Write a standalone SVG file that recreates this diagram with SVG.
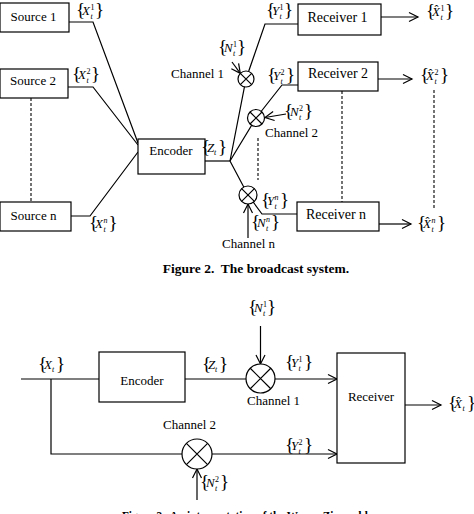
<svg xmlns="http://www.w3.org/2000/svg" width="474" height="514" viewBox="0 0 474 514" font-family="'Liberation Serif','Times New Roman',Tinos,'DejaVu Serif',serif">
<style>
.bx{fill:#fff;stroke:#000;stroke-width:1.2}
.ln{fill:none;stroke:#000;stroke-width:1.2}
.ds{fill:none;stroke:#000;stroke-width:1.1;stroke-dasharray:3 2}
.ar{marker-end:url(#ah)}
text{font-family:'Liberation Serif','Times New Roman',Tinos,'DejaVu Serif',serif;fill:#000}
.t{font-size:13px}
.tr{font-size:14px}
.m{text-anchor:middle}
.br{font-size:19px}
.v{font-size:13px;font-style:italic}
.s{font-size:8px}
.si{font-size:8px;font-style:italic}
.h{font-size:12px}
.cap{font-size:13.5px;font-weight:bold}
</style>
<defs>
<marker id="ah" markerUnits="userSpaceOnUse" markerWidth="12" markerHeight="12" refX="10" refY="5" orient="auto" viewBox="0 0 12 10">
<path d="M1,0.5 L10,5 L1,9.5" fill="none" stroke="#000" stroke-width="1.2"/>
</marker>
</defs>
<rect width="474" height="514" fill="#fff"/>

<g id="connectors">
<polyline class="ln" points="69,22 93,22 138,143"/>
<polyline class="ln" points="68,87 93,87 138,145"/>
<polyline class="ln" points="71,216 90,216 138,152"/>
<line class="ln" x1="205" y1="161" x2="230" y2="161"/>
<polyline class="ln" points="230,161 246,79 265,24 298,24"/>
<polyline class="ln" points="230,161 256,118 282,85 298,85"/>
<polyline class="ln" points="230,161 248,195 262,214 297,214"/>
<line class="ln ar" x1="232" y1="62" x2="240.3" y2="73.3"/>
<line class="ln ar" x1="286" y1="114" x2="265" y2="117.5"/>
<line class="ln ar" x1="248" y1="238" x2="248" y2="204"/>
<line class="ln ar" x1="381" y1="17" x2="418" y2="17"/>
<line class="ln ar" x1="378" y1="79" x2="412" y2="79"/>
<line class="ln ar" x1="379" y1="224" x2="411" y2="224"/>
<line class="ds" x1="31" y1="98" x2="31" y2="202"/>
<line class="ds" x1="258" y1="138" x2="258" y2="180"/>
<line class="ds" x1="342" y1="91" x2="342" y2="202"/>
<line class="ds" x1="434" y1="90" x2="434" y2="210"/>

<line class="ln" x1="21" y1="379" x2="99" y2="379"/>
<polyline class="ln" points="51,379 51,454 182,454"/>
<line class="ln" x1="185" y1="379" x2="246" y2="379"/>
<line class="ln ar" x1="275" y1="379" x2="337" y2="379"/>
<line class="ln ar" x1="260.5" y1="326" x2="260.5" y2="364"/>
<line class="ln ar" x1="212" y1="454" x2="337" y2="454"/>
<line class="ln ar" x1="197" y1="500" x2="197" y2="469"/>
<line class="ln ar" x1="405" y1="405" x2="441" y2="405"/>
</g>

<g id="source1"><rect class="bx" x="0" y="3" width="69" height="29"/><text class="t m" x="33.5" y="21">Source 1</text></g>
<g id="source2"><rect class="bx" x="0" y="69" width="68" height="29"/><text class="t m" x="33" y="85">Source 2</text></g>
<g id="sourcen"><rect class="bx" x="0" y="202" width="71" height="29"/><text class="t m" x="33.5" y="220">Source n</text></g>
<g id="encoder"><rect class="bx" x="138" y="139" width="67" height="35"/><text class="t m" x="171" y="155">Encoder</text></g>

<g id="channel1"><circle class="bx" cx="246" cy="79" r="8"/><path class="ln" d="M240.3,73.3 L251.7,84.7 M251.7,73.3 L240.3,84.7"/><text class="t" x="171" y="78">Channel 1</text></g>
<g id="channel2"><circle class="bx" cx="256" cy="118" r="8.5"/><path class="ln" d="M250,112 L262,124 M262,112 L250,124"/><text class="t" x="265" y="137">Channel 2</text></g>
<g id="channeln"><circle class="bx" cx="248" cy="195" r="9"/><path class="ln" d="M241.6,188.6 L254.4,201.4 M254.4,188.6 L241.6,201.4"/><text class="t" x="222" y="248">Channel n</text></g>

<g id="receiver1"><rect class="bx" x="298" y="4" width="83" height="31"/><text class="tr m" x="337.5" y="22">Receiver 1</text></g>
<g id="receiver2"><rect class="bx" x="298" y="62" width="80" height="29"/><text class="tr m" x="338" y="78">Receiver 2</text></g>
<g id="receivern"><rect class="bx" x="297" y="202" width="82" height="29"/><text class="tr m" x="336" y="219">Receiver n</text></g>

<g id="labels-top">
<g transform="translate(76,16)"><text class="br" x="0">{</text><text class="v" x="6" y="-1">X</text><text class="s" x="14.5" y="-6">1</text><text class="si" x="14.5" y="3">t</text><text class="br" x="19">}</text></g>
<g transform="translate(72,80)"><text class="br" x="0">{</text><text class="v" x="6" y="-1">X</text><text class="s" x="14.5" y="-6">2</text><text class="si" x="14.5" y="3">t</text><text class="br" x="19">}</text></g>
<g transform="translate(89,229)"><text class="br" x="0">{</text><text class="v" x="6" y="-1">X</text><text class="si" x="14.5" y="-6">n</text><text class="si" x="14.5" y="3">t</text><text class="br" x="19.5">}</text></g>
<g transform="translate(266,16)"><text class="br" x="0">{</text><text class="v" x="6" y="-1">Y</text><text class="s" x="13.5" y="-6">1</text><text class="si" x="13.5" y="3">t</text><text class="br" x="18">}</text></g>
<g transform="translate(218,53)"><text class="br" x="0">{</text><text class="v" x="6" y="-1">N</text><text class="s" x="15" y="-6">1</text><text class="si" x="15" y="3">t</text><text class="br" x="19">}</text></g>
<g transform="translate(267,81)"><text class="br" x="0">{</text><text class="v" x="6" y="-1">Y</text><text class="s" x="13.5" y="-6">2</text><text class="si" x="13.5" y="3">t</text><text class="br" x="19">}</text></g>
<g transform="translate(284,117)"><text class="br" x="0">{</text><text class="v" x="6" y="-1">N</text><text class="s" x="15" y="-6">2</text><text class="si" x="15" y="3">t</text><text class="br" x="20">}</text></g>
<g transform="translate(201,153)"><text class="br" x="0">{</text><text class="v" x="6" y="-1">Z</text><text class="si" x="13" y="2">t</text><text class="br" x="17">}</text></g>
<g transform="translate(261,206)"><text class="br" x="0">{</text><text class="v" x="6" y="-1">Y</text><text class="si" x="13.5" y="-6">n</text><text class="si" x="13.5" y="3">t</text><text class="br" x="19">}</text></g>
<g transform="translate(251,228)"><text class="br" x="0">{</text><text class="v" x="6" y="-1">N</text><text class="si" x="15" y="-6">n</text><text class="si" x="15" y="3">t</text><text class="br" x="20">}</text></g>
<g transform="translate(426,17)"><text class="br" x="0">{</text><text class="v" x="6" y="-1">X</text><text class="h" x="8.5" y="-3">ˆ</text><text class="s" x="14.5" y="-6">1</text><text class="si" x="14.5" y="3">t</text><text class="br" x="19">}</text></g>
<g transform="translate(420,81)"><text class="br" x="0">{</text><text class="v" x="6" y="-1">X</text><text class="h" x="8.5" y="-3">ˆ</text><text class="s" x="14.5" y="-6">2</text><text class="si" x="14.5" y="3">t</text><text class="br" x="20">}</text></g>
<g transform="translate(417,229)"><text class="br" x="0">{</text><text class="v" x="6" y="-1">X</text><text class="h" x="8.5" y="-3">ˆ</text><text class="si" x="14.5" y="-6">n</text><text class="si" x="14.5" y="3">t</text><text class="br" x="20">}</text></g>
</g>

<text class="cap m" x="256" y="273" xml:space="preserve">Figure 2.  The broadcast system.</text>

<g id="encoder-b"><rect class="bx" x="99" y="352" width="86" height="50"/><text class="t m" x="142" y="385">Encoder</text></g>
<g id="channel1-b"><circle class="bx" cx="260.5" cy="378.5" r="14.5"/><path class="ln" d="M250.25,368.25 L270.75,388.75 M270.75,368.25 L250.25,388.75"/><text class="t" x="247" y="405">Channel 1</text></g>
<g id="channel2-b"><circle class="bx" cx="197" cy="454" r="15"/><path class="ln" d="M186.4,443.4 L207.6,464.6 M207.6,443.4 L186.4,464.6"/><text class="t" x="163" y="429">Channel 2</text></g>
<g id="receiver-b"><rect class="bx" x="337" y="353" width="68" height="110"/><text class="t m" x="371" y="401">Receiver</text></g>

<g id="labels-bottom">
<g transform="translate(38,370)"><text class="br" x="0">{</text><text class="v" x="6" y="-1">X</text><text class="si" x="14" y="2">t</text><text class="br" x="18">}</text></g>
<g transform="translate(202,370)"><text class="br" x="0">{</text><text class="v" x="6" y="-1">Z</text><text class="si" x="13" y="2">t</text><text class="br" x="17">}</text></g>
<g transform="translate(248,313)"><text class="br" x="0">{</text><text class="v" x="6" y="-1">N</text><text class="s" x="15" y="-6">1</text><text class="si" x="15" y="3">t</text><text class="br" x="19">}</text></g>
<g transform="translate(285,368)"><text class="br" x="0">{</text><text class="v" x="6" y="-1">Y</text><text class="s" x="13.5" y="-6">1</text><text class="si" x="13.5" y="3">t</text><text class="br" x="19">}</text></g>
<g transform="translate(448,409)"><text class="br" x="0">{</text><text class="v" x="6" y="-1">X</text><text class="h" x="8.5" y="-3">ˆ</text><text class="si" x="14.5" y="2">t</text><text class="br" x="19">}</text></g>
<g transform="translate(285,451)"><text class="br" x="0">{</text><text class="v" x="6" y="-1">Y</text><text class="s" x="13.5" y="-6">2</text><text class="si" x="13.5" y="3">t</text><text class="br" x="19">}</text></g>
<g transform="translate(200,488)"><text class="br" x="0">{</text><text class="v" x="6" y="-1">N</text><text class="s" x="15" y="-6">2</text><text class="si" x="15" y="3">t</text><text class="br" x="20">}</text></g>
</g>

<text class="cap" x="122" y="520" textLength="263" lengthAdjust="spacingAndGlyphs" xml:space="preserve">Figure 3.  An interpretation of the Wyner-Ziv problem.</text>
</svg>
